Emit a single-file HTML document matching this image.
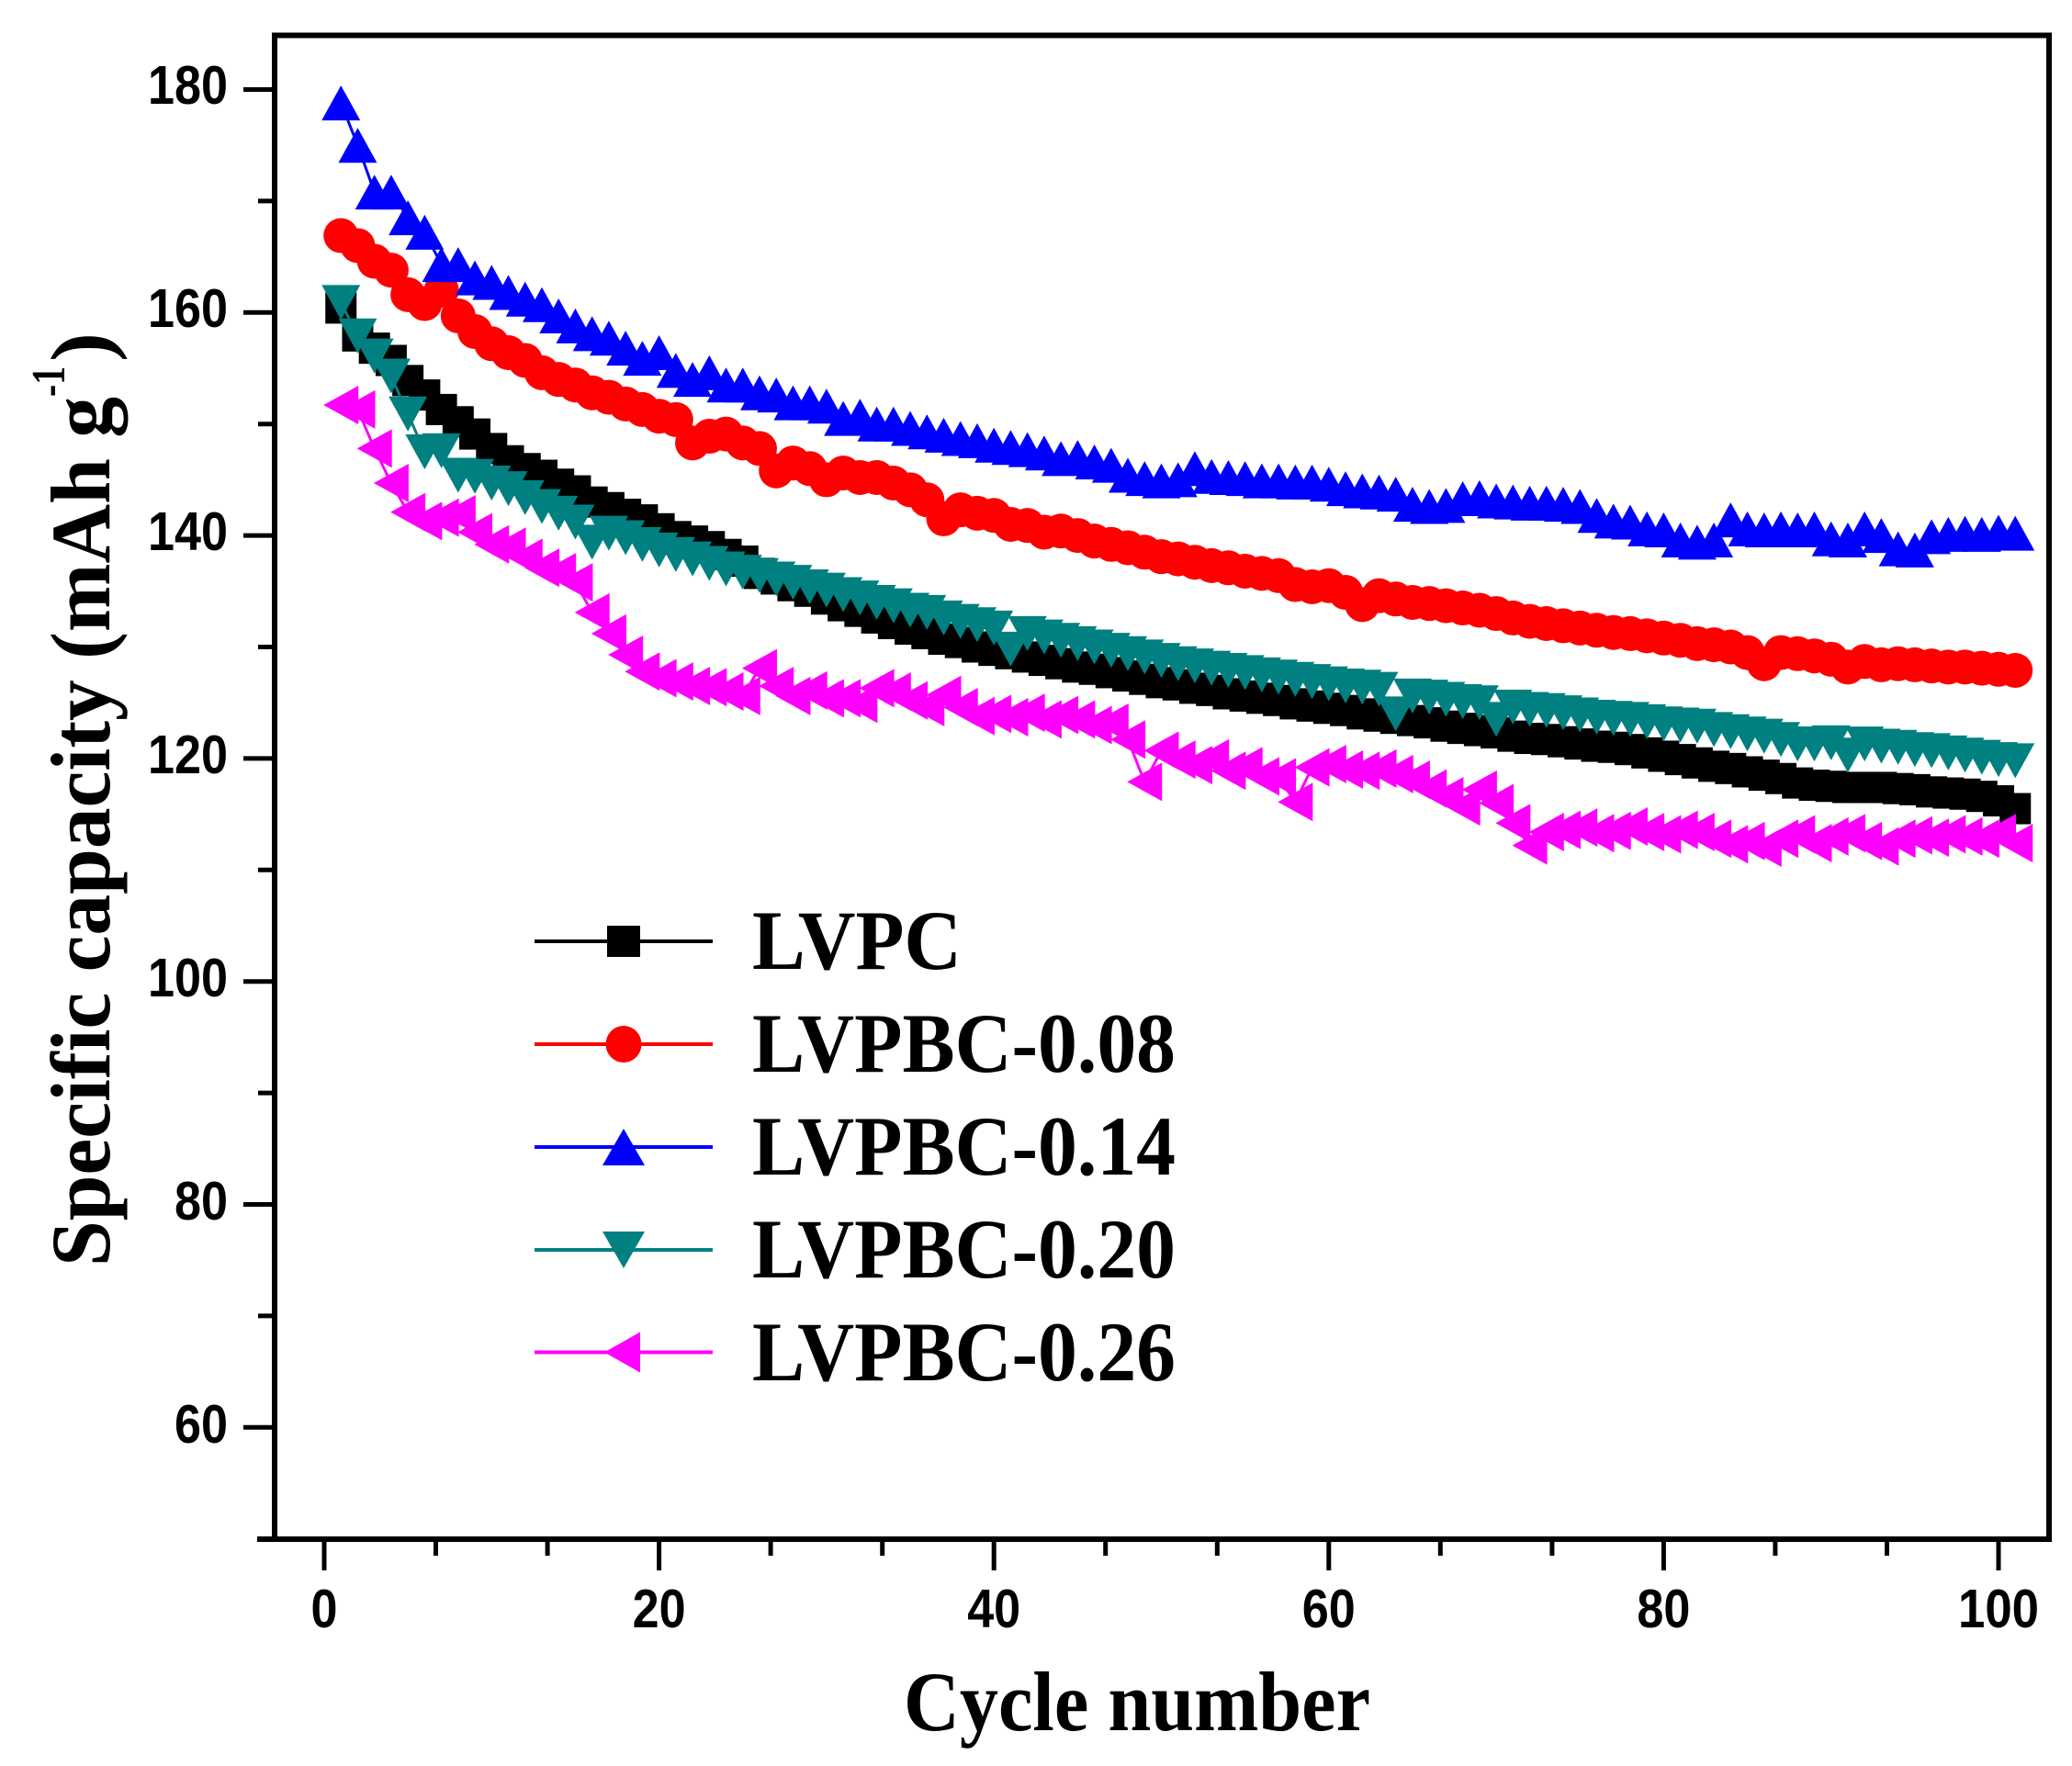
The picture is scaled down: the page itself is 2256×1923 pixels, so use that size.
<!DOCTYPE html>
<html>
<head>
<meta charset="utf-8">
<style>
html,body{margin:0;padding:0;background:#ffffff;}
body{width:2256px;height:1923px;overflow:hidden;}
svg{display:block;}
.tk{font-family:"Liberation Sans",Arial,sans-serif;font-weight:bold;font-size:59px;fill:#000;}
.ser{font-family:"Liberation Serif","Times New Roman",serif;font-weight:bold;fill:#000;}
</style>
</head>
<body>
<svg width="2256" height="1923" viewBox="0 0 2256 1923" xmlns="http://www.w3.org/2000/svg">
<defs>
  <marker id="mSq" markerUnits="userSpaceOnUse" markerWidth="1" markerHeight="1" refX="0" refY="0" orient="0" overflow="visible" style="overflow:visible">
    <rect x="-0.9325" y="-1.4003" width="1.865" height="2.8007" fill="#000000"/>
  </marker>
  <marker id="mCi" markerUnits="userSpaceOnUse" markerWidth="1" markerHeight="1" refX="0" refY="0" orient="0" overflow="visible" style="overflow:visible">
    <ellipse cx="0" cy="0" rx="1.0423" ry="1.5651" fill="#ff0000"/>
  </marker>
  <marker id="mUp" markerUnits="userSpaceOnUse" markerWidth="1" markerHeight="1" refX="0" refY="0" orient="0" overflow="visible" style="overflow:visible">
    <polygon points="-1.152,-1.565 1.152,-1.565 0,1.565" fill="#0000ff"/>
  </marker>
  <marker id="mDn" markerUnits="userSpaceOnUse" markerWidth="1" markerHeight="1" refX="0" refY="0" orient="0" overflow="visible" style="overflow:visible">
    <polygon points="-1.152,1.565 1.152,1.565 0,-1.565" fill="#008080"/>
  </marker>
  <marker id="mLf" markerUnits="userSpaceOnUse" markerWidth="1" markerHeight="1" refX="0" refY="0" orient="0" overflow="visible" style="overflow:visible">
    <polygon points="-1.042,0 1.042,1.730 1.042,-1.730" fill="#ff00ff"/>
  </marker>
</defs>

<rect x="0" y="0" width="2256" height="1923" fill="#ffffff"/>

<!-- Data (data coords: x=cycle, y=capacity) -->
<g transform="matrix(18.23 0 0 -12.14 353 2282.7)" fill="none" stroke-width="3" stroke-linejoin="round">
  <polyline vector-effect="non-scaling-stroke" stroke="#000000" marker-start="url(#mSq)" marker-mid="url(#mSq)" marker-end="url(#mSq)"
   points="1,160.4 2,157.9 3,156.8 4,155.7 5,153.9 6,152.6 7,151.3 8,150.2 9,149.1 10,147.8 11,146.7 12,146.0 13,145.4 14,144.6 15,144.0 16,143.0 17,142.5 18,141.9 19,141.4 20,140.6 21,139.9 22,139.5 23,139.0 24,138.3 25,137.7 26,136.6 27,136.1 28,135.5 29,135.0 30,134.3 31,133.7 32,133.2 33,132.6 34,132.1 35,131.6 36,131.2 37,130.7 38,130.4 39,130.0 40,129.7 41,129.4 42,129.1 43,128.8 44,128.5 45,128.2 46,128.0 47,127.7 48,127.4 49,127.1 50,126.8 51,126.6 52,126.3 53,126.1 54,125.8 55,125.6 56,125.4 57,125.2 58,124.9 59,124.7 60,124.5 61,124.3 62,124.0 63,123.8 64,123.6 65,123.4 66,123.2 67,122.9 68,122.7 69,122.5 70,122.3 71,122.0 72,121.8 73,121.7 74,121.5 75,121.3 76,121.1 77,121.0 78,120.8 79,120.5 80,120.2 81,119.9 82,119.6 83,119.3 84,119.1 85,118.8 86,118.5 87,118.2 88,117.8 89,117.6 90,117.5 91,117.4 92,117.4 93,117.4 94,117.3 95,117.2 96,117.0 97,116.9 98,116.8 99,116.6 100,116.2 101,115.5"/>
  <polyline vector-effect="non-scaling-stroke" stroke="#ff0000" marker-start="url(#mCi)" marker-mid="url(#mCi)" marker-end="url(#mCi)"
   points="1,166.9 2,166.0 3,164.6 4,163.8 5,161.6 6,160.8 7,162.0 8,159.7 9,158.3 10,157.2 11,156.4 12,155.7 13,154.6 14,154.0 15,153.5 16,152.8 17,152.4 18,151.8 19,151.3 20,150.7 21,150.4 22,148.3 23,148.9 24,149.1 25,148.3 26,147.8 27,145.8 28,146.5 29,146.0 30,145.0 31,145.6 32,145.2 33,145.2 34,144.7 35,144.1 36,143.2 37,141.5 38,142.3 39,142.0 40,141.8 41,141.0 42,140.9 43,140.3 44,140.4 45,140.0 46,139.5 47,139.2 48,138.9 49,138.5 50,138.1 51,137.9 52,137.6 53,137.3 54,137.1 55,136.8 56,136.6 57,136.4 58,135.6 59,135.4 60,135.5 61,134.9 62,133.8 63,134.6 64,134.3 65,134.0 66,133.9 67,133.7 68,133.5 69,133.3 70,133.0 71,132.6 72,132.3 73,132.1 74,131.9 75,131.7 76,131.5 77,131.3 78,131.2 79,131.0 80,130.8 81,130.6 82,130.3 83,130.2 84,130.0 85,129.5 86,128.5 87,129.5 88,129.4 89,129.2 90,128.9 91,128.2 92,128.7 93,128.4 94,128.5 95,128.4 96,128.3 97,128.2 98,128.2 99,128.1 100,128.0 101,127.9"/>
  <polyline vector-effect="non-scaling-stroke" stroke="#0000ff" marker-start="url(#mUp)" marker-mid="url(#mUp)" marker-end="url(#mUp)"
   points="1,178.8 2,175.0 3,170.8 4,170.8 5,168.5 6,167.2 7,164.3 8,164.3 9,163.1 10,162.7 11,161.8 12,161.2 13,160.7 14,159.7 15,158.8 16,158.1 17,157.7 18,156.8 19,155.9 20,156.4 21,154.8 22,154.0 23,154.6 24,153.5 25,153.5 26,152.8 27,152.6 28,151.9 29,151.9 30,151.6 31,150.5 32,150.7 33,150.0 34,150.0 35,149.6 36,149.3 37,149.0 38,148.7 39,148.5 40,148.1 41,147.9 42,147.7 43,147.4 44,146.9 45,147.0 46,146.6 47,146.3 48,145.4 49,145.1 50,144.9 51,145.0 52,146.0 53,145.3 54,145.2 55,145.1 56,144.9 57,144.9 58,144.8 59,144.8 60,144.6 61,144.2 62,144.0 63,143.9 64,143.7 65,142.8 66,142.6 67,142.7 68,143.3 69,143.4 70,143.1 71,143.0 72,142.9 73,142.9 74,142.8 75,142.6 76,141.8 77,141.3 78,141.2 79,140.6 80,140.5 81,139.6 82,139.4 83,139.6 84,141.4 85,140.6 86,140.5 87,140.6 88,140.5 89,140.6 90,139.7 91,139.6 92,140.6 93,140.0 94,138.8 95,138.7 96,139.9 97,140.1 98,140.2 99,140.1 100,140.3 101,140.2"/>
  <polyline vector-effect="non-scaling-stroke" stroke="#008080" marker-start="url(#mDn)" marker-mid="url(#mDn)" marker-end="url(#mDn)"
   points="1,160.9 2,157.9 3,156.1 4,154.3 5,150.9 6,147.5 7,147.6 8,145.4 9,145.3 10,144.7 11,144.2 12,143.4 13,142.6 14,142.0 15,141.2 16,139.4 17,140.2 18,139.8 19,139.2 20,138.7 21,138.3 22,137.9 23,137.5 24,137.0 25,136.7 26,136.4 27,136.1 28,135.8 29,135.4 30,135.1 31,134.7 32,134.4 33,134.0 34,133.7 35,133.3 36,133.1 37,132.6 38,132.3 39,132.0 40,131.7 41,129.8 42,131.2 43,130.9 44,130.6 45,130.3 46,130.0 47,129.7 48,129.4 49,129.1 50,128.8 51,128.5 52,128.3 53,128.1 54,127.9 55,127.7 56,127.5 57,127.3 58,127.1 59,126.9 60,126.7 61,126.5 62,126.4 63,126.2 64,124.0 65,125.6 66,125.5 67,125.3 68,125.1 69,125.0 70,123.5 71,124.6 72,124.4 73,124.3 74,124.1 75,123.9 76,123.7 77,123.6 78,123.5 79,123.3 80,123.1 81,123.0 82,122.9 83,122.6 84,122.4 85,122.2 86,122.0 87,121.7 88,121.3 89,121.3 90,121.4 91,120.3 92,121.3 93,121.1 94,121.0 95,120.8 96,120.7 97,120.5 98,120.3 99,120.1 100,119.9 101,119.8"/>
  <polyline vector-effect="non-scaling-stroke" stroke="#ff00ff" marker-start="url(#mLf)" marker-mid="url(#mLf)" marker-end="url(#mLf)"
   points="1,151.7 2,151.3 3,147.8 4,144.7 5,142.1 6,141.3 7,141.6 8,141.9 9,140.3 10,139.2 11,139.0 12,138.0 13,137.1 14,136.7 15,135.8 16,133.1 17,131.2 18,129.3 19,127.8 20,127.2 21,126.9 22,126.5 23,126.4 24,126.0 25,125.6 26,128.1 27,126.5 28,125.6 29,126.1 30,125.4 31,125.4 32,124.9 33,126.3 34,126.0 35,125.2 36,124.6 37,125.7 38,124.6 39,123.8 40,124.0 41,123.7 42,124.1 43,123.5 44,123.9 45,123.5 46,123.0 47,123.2 48,121.7 49,117.9 50,120.7 51,119.9 52,119.4 53,120.0 54,118.9 55,119.3 56,118.4 57,118.3 58,116.1 59,119.2 60,119.5 61,119.0 62,118.9 63,119.1 64,118.6 65,118.1 66,117.3 67,116.6 68,115.7 69,117.2 70,116.0 71,114.2 72,112.2 73,113.4 74,113.6 75,113.8 76,113.3 77,113.5 78,113.9 79,113.4 80,113.2 81,113.6 82,113.4 83,112.8 84,112.3 85,112.6 86,112.0 87,112.8 88,113.2 89,112.4 90,113.0 91,113.3 92,112.6 93,112.1 94,112.8 95,113.1 96,112.9 97,113.2 98,113.0 99,112.8 100,113.3 101,112.4"/>
</g>

<!-- Frame -->
<g stroke="#000" stroke-width="6" fill="none">
  <line x1="299" y1="38.5" x2="2231" y2="38.5"/>
  <line x1="2231" y1="35.5" x2="2231" y2="1676"/>
  <line x1="299" y1="35.5" x2="299" y2="1676"/>
  <line x1="280" y1="1676" x2="2234" y2="1676"/>
</g>

<!-- Y ticks -->
<g stroke="#000" stroke-width="5">
  <line x1="265" y1="97.5" x2="299" y2="97.5"/>
  <line x1="265" y1="340.3" x2="299" y2="340.3"/>
  <line x1="265" y1="583.1" x2="299" y2="583.1"/>
  <line x1="265" y1="825.9" x2="299" y2="825.9"/>
  <line x1="265" y1="1068.7" x2="299" y2="1068.7"/>
  <line x1="265" y1="1311.5" x2="299" y2="1311.5"/>
  <line x1="265" y1="1554.3" x2="299" y2="1554.3"/>
  <line x1="281" y1="218.9" x2="299" y2="218.9"/>
  <line x1="281" y1="461.7" x2="299" y2="461.7"/>
  <line x1="281" y1="704.5" x2="299" y2="704.5"/>
  <line x1="281" y1="947.3" x2="299" y2="947.3"/>
  <line x1="281" y1="1190.1" x2="299" y2="1190.1"/>
  <line x1="281" y1="1432.9" x2="299" y2="1432.9"/>
</g>

<!-- X ticks -->
<g stroke="#000" stroke-width="5">
  <line x1="353" y1="1676" x2="353" y2="1710"/>
  <line x1="717.6" y1="1676" x2="717.6" y2="1710"/>
  <line x1="1082.2" y1="1676" x2="1082.2" y2="1710"/>
  <line x1="1446.8" y1="1676" x2="1446.8" y2="1710"/>
  <line x1="1811.4" y1="1676" x2="1811.4" y2="1710"/>
  <line x1="2176" y1="1676" x2="2176" y2="1710"/>
  <line x1="474.5" y1="1676" x2="474.5" y2="1694"/>
  <line x1="596.1" y1="1676" x2="596.1" y2="1694"/>
  <line x1="839.1" y1="1676" x2="839.1" y2="1694"/>
  <line x1="960.7" y1="1676" x2="960.7" y2="1694"/>
  <line x1="1203.7" y1="1676" x2="1203.7" y2="1694"/>
  <line x1="1325.3" y1="1676" x2="1325.3" y2="1694"/>
  <line x1="1568.3" y1="1676" x2="1568.3" y2="1694"/>
  <line x1="1689.9" y1="1676" x2="1689.9" y2="1694"/>
  <line x1="1932.9" y1="1676" x2="1932.9" y2="1694"/>
  <line x1="2054.5" y1="1676" x2="2054.5" y2="1694"/>
</g>

<!-- Y tick labels -->
<g class="tk" text-anchor="end">
  <text x="248" y="113" textLength="87" lengthAdjust="spacingAndGlyphs">180</text>
  <text x="248" y="356" textLength="87" lengthAdjust="spacingAndGlyphs">160</text>
  <text x="248" y="599" textLength="87" lengthAdjust="spacingAndGlyphs">140</text>
  <text x="248" y="842" textLength="87" lengthAdjust="spacingAndGlyphs">120</text>
  <text x="248" y="1085" textLength="87" lengthAdjust="spacingAndGlyphs">100</text>
  <text x="248" y="1328" textLength="58" lengthAdjust="spacingAndGlyphs">80</text>
  <text x="248" y="1571" textLength="58" lengthAdjust="spacingAndGlyphs">60</text>
</g>

<!-- X tick labels -->
<g class="tk" text-anchor="middle">
  <text x="353" y="1772" textLength="29" lengthAdjust="spacingAndGlyphs">0</text>
  <text x="717.6" y="1772" textLength="58" lengthAdjust="spacingAndGlyphs">20</text>
  <text x="1082.2" y="1772" textLength="58" lengthAdjust="spacingAndGlyphs">40</text>
  <text x="1446.8" y="1772" textLength="58" lengthAdjust="spacingAndGlyphs">60</text>
  <text x="1811.4" y="1772" textLength="58" lengthAdjust="spacingAndGlyphs">80</text>
  <text x="2176" y="1772" textLength="88" lengthAdjust="spacingAndGlyphs">100</text>
</g>

<!-- Axis titles -->
<text class="ser" x="984" y="1884" font-size="92" textLength="508" lengthAdjust="spacingAndGlyphs">Cycle number</text>
<text class="ser" transform="rotate(-90)" x="-1379" y="119" font-size="92" textLength="947" lengthAdjust="spacingAndGlyphs">Specific capacity (mAh g</text>
<text class="ser" transform="rotate(-90)" x="-432" y="70" font-size="52" textLength="33" lengthAdjust="spacingAndGlyphs">-1</text>
<text class="ser" transform="rotate(-90)" x="-394" y="119" font-size="92" textLength="32" lengthAdjust="spacingAndGlyphs">)</text>

<!-- Legend -->
<g stroke-width="4">
  <line x1="582" y1="1025" x2="776" y2="1025" stroke="#000000"/>
  <line x1="582" y1="1137" x2="776" y2="1137" stroke="#ff0000"/>
  <line x1="582" y1="1249" x2="776" y2="1249" stroke="#0000ff"/>
  <line x1="582" y1="1361" x2="776" y2="1361" stroke="#008080"/>
  <line x1="582" y1="1472.5" x2="776" y2="1472.5" stroke="#ff00ff"/>
</g>
<rect x="661" y="1008" width="36" height="34" fill="#000000"/>
<ellipse cx="679" cy="1137" rx="19.5" ry="20" fill="#ff0000"/>
<polygon points="656,1269 702,1269 679,1229" fill="#0000ff"/>
<polygon points="656,1341 702,1341 679,1381" fill="#008080"/>
<polygon points="658,1472.5 697,1450.5 697,1494.5" fill="#ff00ff"/>

<g class="ser" font-size="92">
  <text x="819" y="1055" textLength="228" lengthAdjust="spacingAndGlyphs">LVPC</text>
  <text x="819" y="1167" textLength="461" lengthAdjust="spacingAndGlyphs">LVPBC-0.08</text>
  <text x="819" y="1279" textLength="461" lengthAdjust="spacingAndGlyphs">LVPBC-0.14</text>
  <text x="819" y="1391" textLength="461" lengthAdjust="spacingAndGlyphs">LVPBC-0.20</text>
  <text x="819" y="1503" textLength="461" lengthAdjust="spacingAndGlyphs">LVPBC-0.26</text>
</g>
</svg>
</body>
</html>
